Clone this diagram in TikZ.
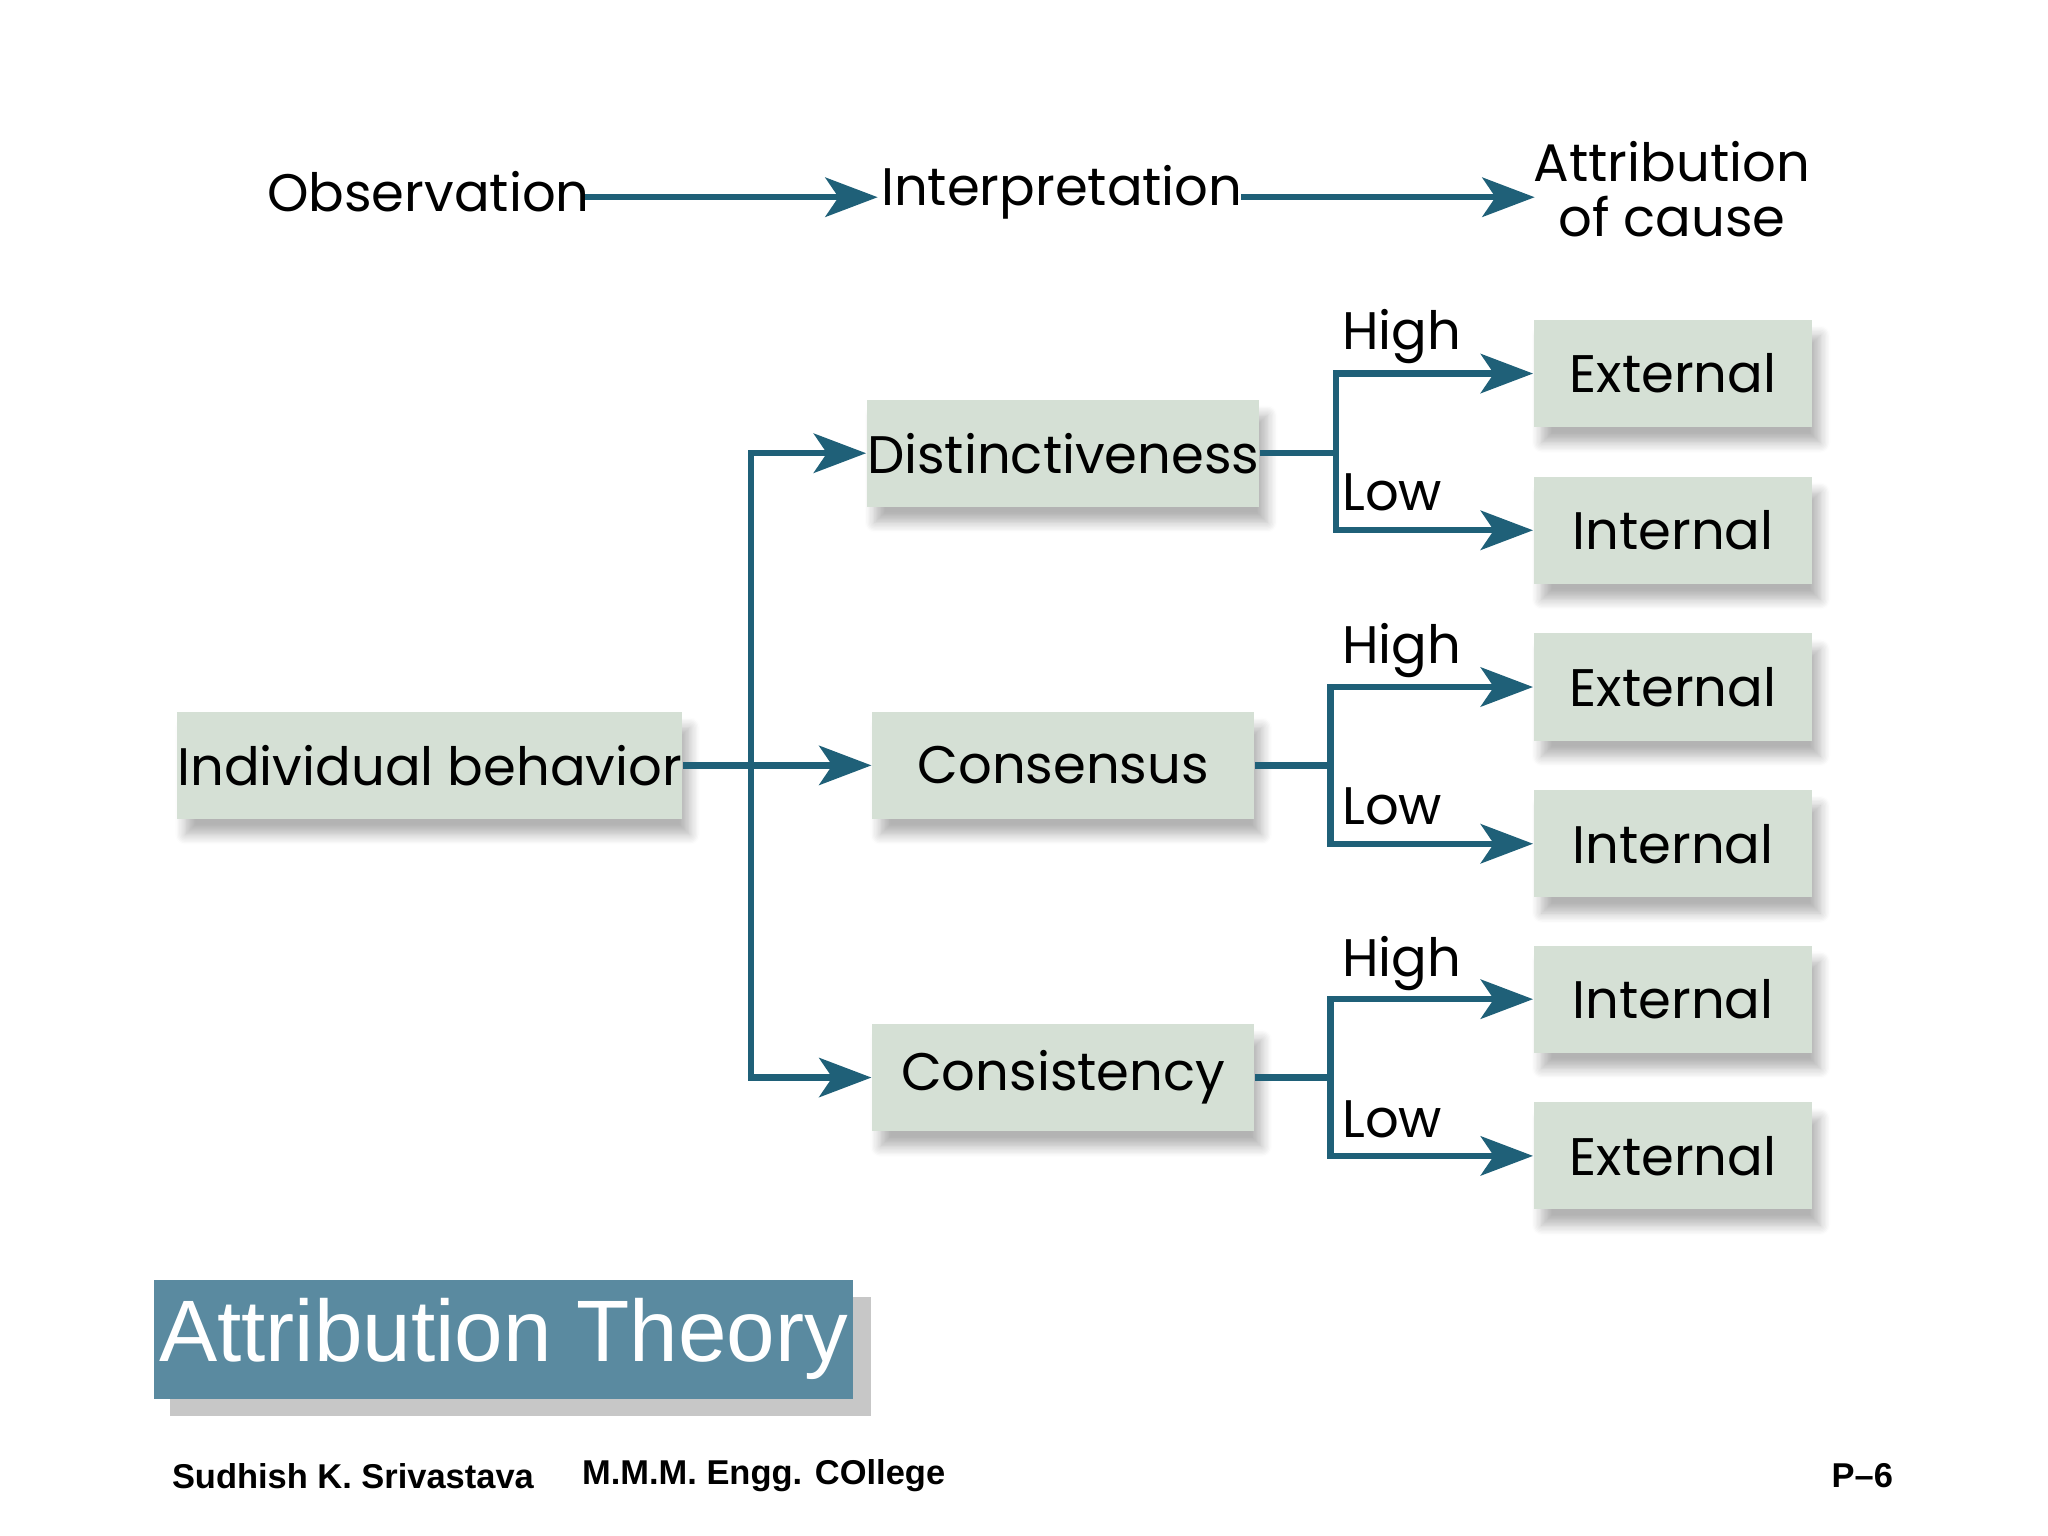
\documentclass[tikz,border=0pt]{standalone}
\usepackage{fontspec}
\setmainfont{Poppins}
\newfontfamily\arialf{Liberation Sans}
\usetikzlibrary{arrows.meta,shadows.blur}
\definecolor{boxc}{HTML}{D5E0D5}
\definecolor{linec}{HTML}{1F6078}
\definecolor{titlec}{HTML}{5A8AA0}
\tikzset{
  bx/.style={fill=boxc,minimum height=0.82cm,inner sep=0pt,blur shadow={shadow xshift=0.6mm,shadow yshift=-1.2mm,shadow blur steps=8,shadow opacity=30},font=\fontsize{11.5}{13}\selectfont},
  ln/.style={draw=linec,line width=1.4pt},
  ar/.style={ln,-{Stealth[length=4mm,width=3mm,inset=1mm]}},
  lab/.style={font=\fontsize{11.5}{13}\selectfont,inner sep=0pt}
}
\begin{document}
\begin{tikzpicture}[x=0.01cm,y=-0.01cm]
\useasboundingbox (0,0) rectangle (1568,1176);
% header
\node[lab] (obs) at (328,147) {Observation};
\node[lab] (int) at (813,147) {Interpretation};
\node[lab,align=center] (att) at (1280,145) {Attribution\\[-1pt]of cause};
\draw[ar] (448,151) -- (672,151);
\draw[ar] (950,151) -- (1175,151);
% boxes
\node[bx,minimum width=3.7cm] (ib) at (329,586) {Individual behavior};
\node[bx,minimum width=2.92cm] (d) at (814,347) {Distinctiveness};
\node[bx,minimum width=2.92cm] (c) at (814,586) {Consensus};
\node[bx,minimum width=2.92cm] (s) at (814,825) {Consistency};
\node[bx,minimum width=2.13cm] (r1) at (1281,286) {External};
\node[bx,minimum width=2.13cm] (r2) at (1281,406) {Internal};
\node[bx,minimum width=2.13cm] (r3) at (1281,526) {External};
\node[bx,minimum width=2.13cm] (r4) at (1281,646) {Internal};
\node[bx,minimum width=2.13cm] (r5) at (1281,765) {Internal};
\node[bx,minimum width=2.13cm] (r6) at (1281,885) {External};
% left branch
\coordinate (bj) at (575,586);
\draw[ln] (ib.east) -- (bj);
\draw[ar] (bj) -- (c.west);
\draw[ar] (575,586) |- (d.west);
\draw[ar] (575,586) |- (s.west);
% right branches
\foreach \src/\hi/\lo in {d/r1/r2, c/r3/r4, s/r5/r6}{
  \draw[ln] (\src.east) -- ++(58,0) coordinate (j\src);
  \draw[ar] (j\src) |- (\hi.west);
  \draw[ar] (j\src) |- (\lo.west);
}
\node[lab,anchor=west] at (1027,258) {High};
\node[lab,anchor=west] at (1027,377) {Low};
\node[lab,anchor=west] at (1027,498) {High};
\node[lab,anchor=west] at (1027,617) {Low};
\node[lab,anchor=west] at (1027,738) {High};
\node[lab,anchor=west] at (1027,857) {Low};
% title
\fill[black!22] (130,993) rectangle (667,1084);
\node[fill=titlec,minimum width=5.35cm,minimum height=0.91cm,inner sep=0pt,text=white,font=\arialf\fontsize{19}{22}\selectfont] (title) at (385.5,1025.5) {Attribution Theory};
% footer
\node[anchor=west,inner sep=0pt,font=\arialf\bfseries\fontsize{7.5}{9}\selectfont] (f1) at (131,1130) {Sudhish K. Srivastava};
\node[anchor=west,inner sep=0pt,font=\arialf\bfseries\fontsize{7.5}{9}\selectfont] (f2) at (445,1130) {M.M.M. Engg. COllege};
\node[anchor=east,inner sep=0pt,font=\arialf\bfseries\fontsize{7.5}{9}\selectfont] (f3) at (1450,1130) {P–6};
\end{tikzpicture}
\end{document}
